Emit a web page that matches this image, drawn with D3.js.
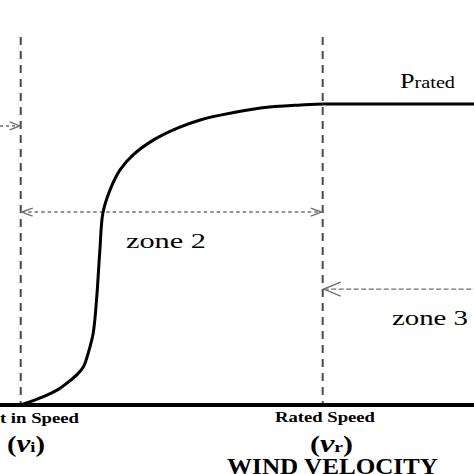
<!DOCTYPE html>
<html>
<head>
<meta charset="utf-8">
<script src="https://cdn.jsdelivr.net/npm/d3@7"></script>
<style>
  html, body { margin: 0; padding: 0; background: #fff; }
  svg { display: block; }
  text { font-family: "Liberation Serif", "Times New Roman", serif; fill: #000; }
</style>
</head>
<body>
<svg id="chart" width="474" height="474"></svg>
<script>
// Wind speeds (arbitrary m/s) of the cut-in and rated points
const cutInSpeed = 3;
const ratedSpeed = 12;
// Power curve (normalised to rated power) between cut-in and rated speed
const windSpeed = [3.0, 3.66, 4.12, 4.38, 4.67, 4.87, 5.04, 5.16, 5.26, 5.36, 5.45, 5.66, 5.96, 6.35, 6.95, 7.67, 8.35, 8.95, 10.15, 11.34, 12.0];
const powerOut  = [0, 0.027, 0.052, 0.073, 0.100, 0.127, 0.183, 0.238, 0.349, 0.515, 0.638, 0.714, 0.781, 0.831, 0.880, 0.920, 0.947, 0.963, 0.987, 0.997, 1.0];
const ratedPower = 1.0;
// Labels
const zoneLabels = ["zone 2", "zone 3"];
const speedLabels = ["Cut in Speed", "Rated Speed"];
const axisTitle = "WIND VELOCITY";

const W = 474, H = 474;
const svg = d3.select("#chart");

const x = d3.scaleLinear().domain([cutInSpeed, ratedSpeed]).range([20.7, 322.7]);
const y = d3.scaleLinear().domain([0, ratedPower]).range([405, 104]);
const vMin = x.invert(0), vMax = x.invert(W);

const grey = "#4a4a4a", arrowGrey = "#707070";

// vertical dashed guides at cut-in and rated speed
[cutInSpeed, ratedSpeed].forEach(v => {
  svg.append("line")
    .attr("x1", x(v)).attr("x2", x(v))
    .attr("y1", 37).attr("y2", y(0))
    .attr("stroke", grey).attr("stroke-width", 2)
    .attr("stroke-dasharray", "8,6");
});

// arrows
function arrow(xa, xb, yy, dash, headLen, headHalf, heads) {
  svg.append("line")
    .attr("x1", xa).attr("x2", xb).attr("y1", yy).attr("y2", yy)
    .attr("stroke", arrowGrey).attr("stroke-width", 1.4)
    .attr("stroke-dasharray", dash);
  heads.forEach(h => {
    const tip = h === "end" ? xb : xa;
    const dir = h === "end" ? -1 : 1;
    svg.append("path")
      .attr("d", `M${tip + dir * headLen},${yy - headHalf} L${tip},${yy} L${tip + dir * headLen},${yy + headHalf}`)
      .attr("fill", "none").attr("stroke", arrowGrey).attr("stroke-width", 1.4);
  });
}
const yArrow1 = y(0.927), yArrow2 = y(0.641), yArrow3 = y(0.385);
arrow(x(vMin), x(cutInSpeed) - 1, yArrow1, "3,3", 10, 4, ["end"]);
arrow(x(cutInSpeed) + 1, x(ratedSpeed) - 1, yArrow2, "3.5,3", 11, 4, ["start", "end"]);
arrow(x(ratedSpeed) + 1, x(vMax), yArrow3, "5,2.5", 17, 7, ["start"]);

// horizontal axis line
svg.append("line")
  .attr("x1", x(vMin)).attr("x2", x(vMax))
  .attr("y1", y(0)).attr("y2", y(0))
  .attr("stroke", "#000").attr("stroke-width", 4);

// power curve
const curveData = windSpeed.map((v, i) => [v, powerOut[i]]);
svg.append("path")
  .datum(curveData)
  .attr("d", d3.line().x(d => x(d[0])).y(d => y(d[1])).curve(d3.curveCatmullRom.alpha(0.5)))
  .attr("fill", "none").attr("stroke", "#000").attr("stroke-width", 3);

// rated power line
svg.append("path")
  .datum([[ratedSpeed, ratedPower], [vMax, ratedPower]])
  .attr("d", d3.line().x(d => x(d[0])).y(d => y(d[1])))
  .attr("fill", "none").attr("stroke", "#000").attr("stroke-width", 3);

// P rated label
const pt = svg.append("text").attr("x", 400).attr("y", 88)
  .attr("textLength", 55).attr("lengthAdjust", "spacingAndGlyphs");
pt.append("tspan").attr("font-size", 22).text("P");
pt.append("tspan").attr("font-size", 17).text("rated");

// zone labels
svg.append("text").attr("x", 126).attr("y", 248).attr("font-size", 20)
  .attr("textLength", 80).attr("lengthAdjust", "spacingAndGlyphs").text(zoneLabels[0]);
svg.append("text").attr("x", 392).attr("y", 325).attr("font-size", 20)
  .attr("textLength", 76).attr("lengthAdjust", "spacingAndGlyphs").text(zoneLabels[1]);

// speed labels
svg.append("text").attr("x", -24).attr("y", 423).attr("font-size", 15).attr("font-weight", "bold")
  .attr("textLength", 103).attr("lengthAdjust", "spacingAndGlyphs").text(speedLabels[0]);
svg.append("text").attr("x", 275).attr("y", 422).attr("font-size", 15).attr("font-weight", "bold")
  .attr("textLength", 100).attr("lengthAdjust", "spacingAndGlyphs").text(speedLabels[1]);

// (v_i) and (v_r)
function symbolLabel(x0, sub, len) {
  const t = svg.append("text").attr("x", x0).attr("y", 452).attr("font-weight", "bold")
    .attr("textLength", len).attr("lengthAdjust", "spacingAndGlyphs");
  t.append("tspan").attr("font-size", 23).text("(");
  t.append("tspan").attr("font-size", 25).attr("font-style", "italic").text("v");
  t.append("tspan").attr("font-size", 15).text(sub);
  t.append("tspan").attr("font-size", 23).text(")");
}
symbolLabel(7, "i", 38);
symbolLabel(310, "r", 43);

// axis title
svg.append("text").attr("x", 227).attr("y", 474).attr("font-size", 24).attr("font-weight", "bold")
  .attr("textLength", 211).attr("lengthAdjust", "spacingAndGlyphs").text(axisTitle);
</script>
</body>
</html>
